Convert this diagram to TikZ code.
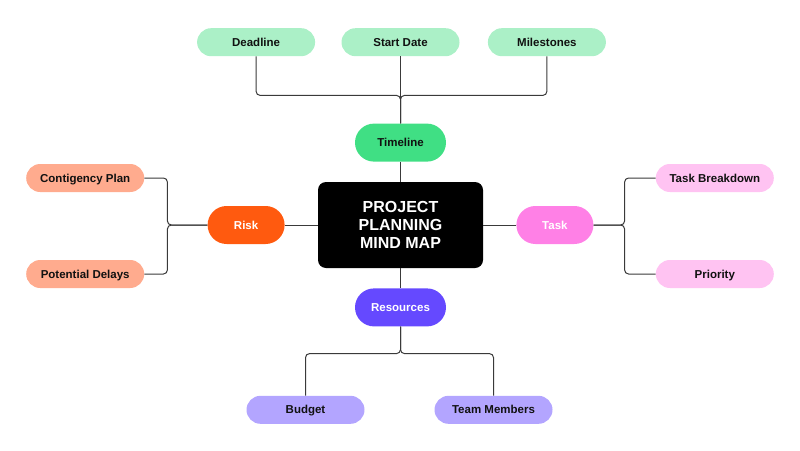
\documentclass[tikz,border=0pt]{standalone}
\usepackage{fontspec}
\setmainfont{Liberation Sans}
\usepackage{tikz}
\usetikzlibrary{positioning}
\definecolor{timegreen}{HTML}{40DF84}
\definecolor{lightgreen}{HTML}{ABF0C7}
\definecolor{riskorange}{HTML}{FF5A0F}
\definecolor{lightsalmon}{HTML}{FFAB8E}
\definecolor{taskpink}{HTML}{FF80E6}
\definecolor{lightpink}{HTML}{FFC3F2}
\definecolor{respurple}{HTML}{6549FF}
\definecolor{lightpurple}{HTML}{B3A5FF}
\definecolor{linegray}{HTML}{3A3A3A}
\definecolor{textdark}{HTML}{111111}
\tikzstyle{hub} = [rectangle, fill=black, rounded corners=8pt, minimum height=86pt, minimum width=165pt, align=center, text=white, font=\bfseries\fontsize{16}{18}\selectfont]
\tikzstyle{branch} = [rectangle, rounded corners=19pt, minimum height=38pt, minimum width=77pt, text centered, text height=9.5pt, text depth=1.5pt, text=textdark, font=\bfseries\fontsize{11.5}{13}\selectfont]
\tikzstyle{leaf} = [rectangle, rounded corners=14pt, minimum height=28pt, minimum width=118pt, text centered, text height=9.5pt, text depth=1.5pt, text=textdark, font=\bfseries\fontsize{11.5}{13}\selectfont]
\tikzstyle{link} = [draw=linegray, line width=1pt, rounded corners=4pt]
\begin{document}
\begin{tikzpicture}[x=1pt, y=1pt, node distance=20pt]
		\useasboundingbox (0,0) rectangle (800,-450);
		% Pusat
		\node [hub] (mindmap) at (400.5,-225) {PROJECT\\PLANNING\\MIND MAP};
		
		% Timeline
		\node [branch, fill=timegreen, minimum width=91pt, above=20pt of mindmap] (timeline) {Timeline};
		\node [leaf, fill=lightgreen, above=67pt of timeline] (startdate) {Start Date};
		\node [leaf, fill=lightgreen, left=26pt of startdate] (deadline) {Deadline};
		\node [leaf, fill=lightgreen, right=28pt of startdate] (milestones) {Milestones};
		\coordinate [above=28pt of timeline] (timelinebus);
		
		% Risk
		\node [branch, fill=riskorange, text=white, left=33pt of mindmap] (risk) {Risk};
		\node [leaf, fill=lightsalmon, left=63pt of risk, yshift=47pt] (contigency) {Contigency Plan};
		\node [leaf, fill=lightsalmon, left=63pt of risk, yshift=-49pt] (delays) {Potential Delays};
		\coordinate [left=40pt of risk] (riskbus);
		
		% Task
		\node [branch, fill=taskpink, text=white, right=33pt of mindmap] (task) {Task};
		\node [leaf, fill=lightpink, right=62pt of task, yshift=47pt] (breakdown) {Task Breakdown};
		\node [leaf, fill=lightpink, right=62pt of task, yshift=-49pt] (priority) {Priority};
		\coordinate [right=31pt of task] (taskbus);
		
		% Resources
		\node [branch, fill=respurple, text=white, minimum width=91pt, below=20pt of mindmap] (resources) {Resources};
		\node [leaf, fill=lightpurple, below=69pt of resources, xshift=-95pt] (budget) {Budget};
		\node [leaf, fill=lightpurple, below=69pt of resources, xshift=93pt] (members) {Team Members};
		\coordinate [below=27pt of resources] (resourcesbus);
		
		\draw [link] (mindmap) -- (timeline);
		\draw [link] (mindmap) -- (risk);
		\draw [link] (mindmap) -- (task);
		\draw [link] (mindmap) -- (resources);
		
		\draw [link] (timeline) -- (startdate);
		\draw [link] (timeline.north) -- (timelinebus) -| (deadline.south);
		\draw [link] (timeline.north) -- (timelinebus) -| (milestones.south);
		\draw [link] (risk.west) -- (riskbus) |- (contigency.east);
		\draw [link] (risk.west) -- (riskbus) |- (delays.east);
		\draw [link] (task.east) -- (taskbus) |- (breakdown.west);
		\draw [link] (task.east) -- (taskbus) |- (priority.west);
		\draw [link] (resources.south) -- (resourcesbus) -| (budget.north);
		\draw [link] (resources.south) -- (resourcesbus) -| (members.north);
	\end{tikzpicture}
\end{document}
